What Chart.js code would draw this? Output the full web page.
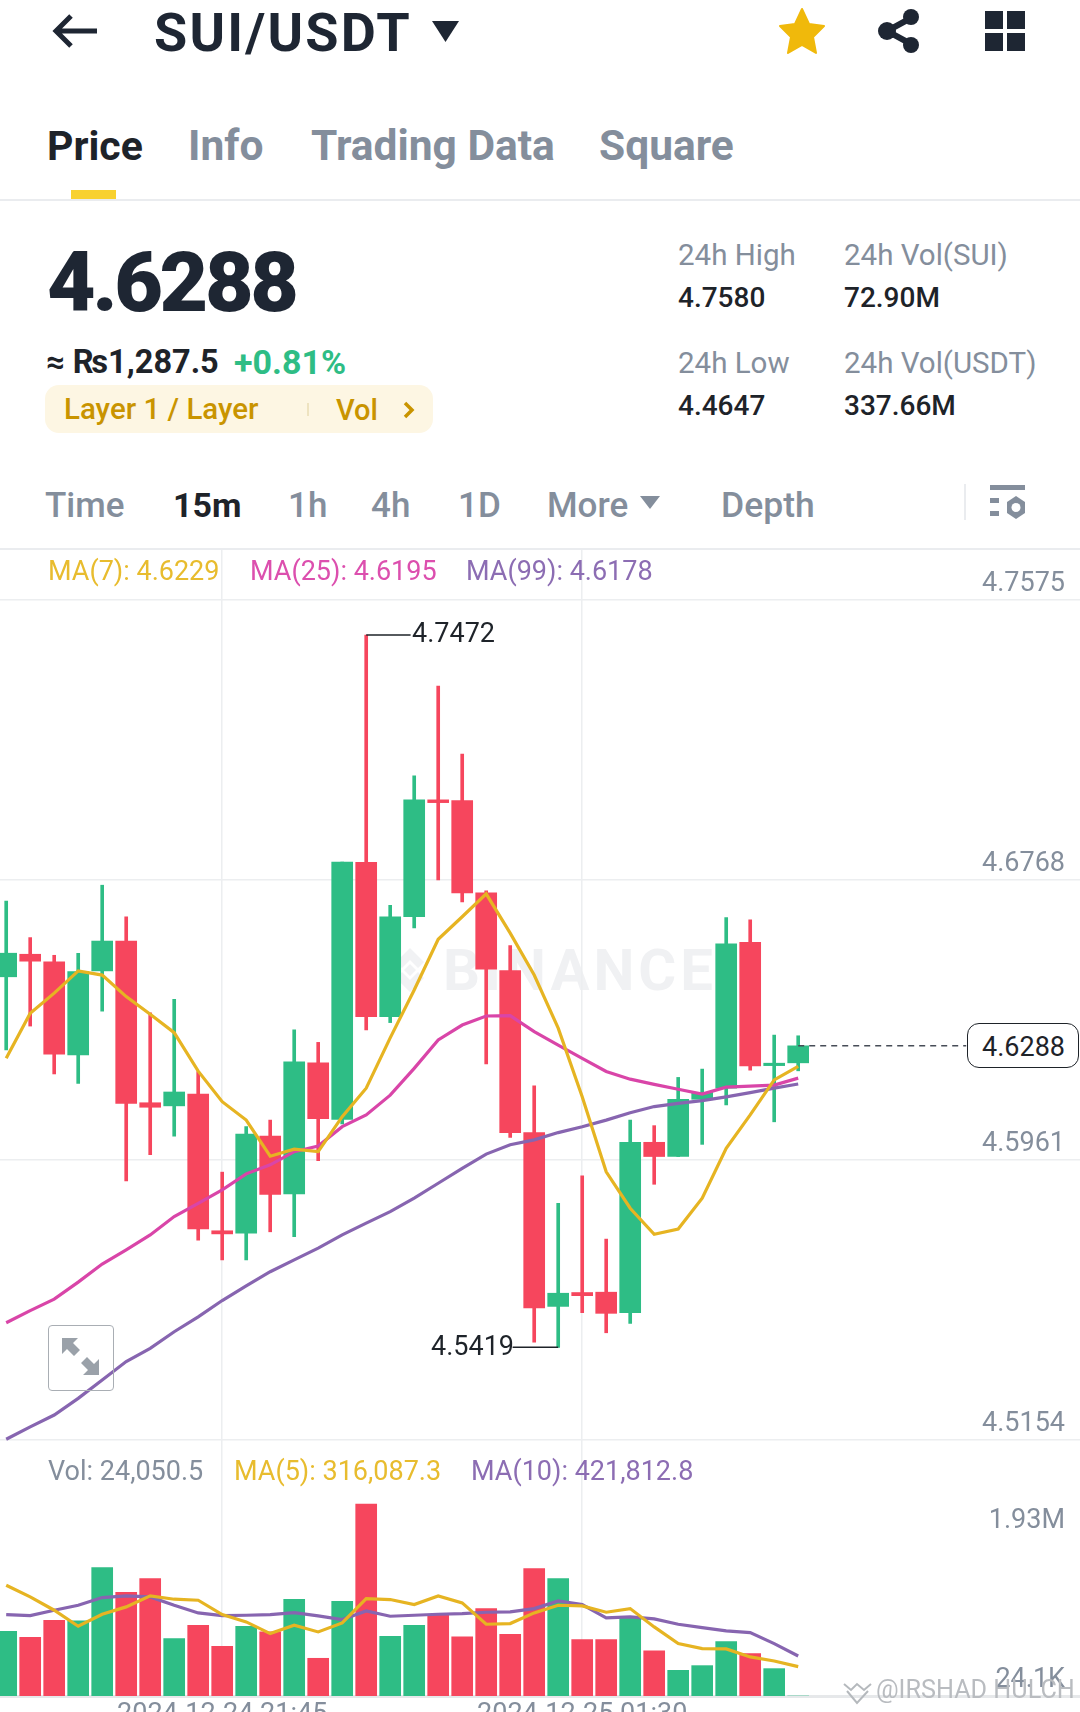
<!DOCTYPE html>
<html lang="en">
<head>
<meta charset="UTF-8">
<title>SUI/USDT</title>
<script src="https://cdn.jsdelivr.net/npm/chart.js@4/dist/chart.umd.min.js"></script>
<style>
  html, body { margin: 0; padding: 0; background: #fff; }
  body { position: relative; width: 1080px; height: 1712px; overflow: hidden; font-family: Roboto, sans-serif; color: #1e2329; }
  canvas { position: absolute; left: 0; z-index: 1; }
  .t { position: absolute; white-space: nowrap; line-height: 1; transform: translateY(-50%); z-index: 2; }
  .tab { font-size: 42.5px; font-weight: 700; color: #848e9c; }
  .stat { font-size: 29.5px; color: #848e9c; }
  .val { font-size: 28px; font-weight: 500; color: #1e2329; }
  .tool { font-size: 35px; font-weight: 500; color: #848e9c; }
  .ma { font-size: 27px; }
  .box { position: absolute; z-index: 2; }
  svg { position: absolute; z-index: 2; overflow: visible; }
</style>
</head>
<body>

<!-- header -->
<svg style="left:53px;top:14px" width="44" height="34"><path d="M18 2 L3 17 L18 32 M3 17 H44" fill="none" stroke="#1e2633" stroke-width="5"/></svg>
<div class="t" style="left:154px;top:33px;font-size:54px;font-weight:700;color:#1e2633;letter-spacing:2.2px">SUI/USDT</div>
<svg style="left:432px;top:21px" width="27" height="21"><path d="M0 0 H27 L13.5 21 Z" fill="#1e2633"/></svg>
<svg style="left:780px;top:9px" width="44" height="44"><path d="M22 0 L29 15 L44 17 L33 28 L36 44 L22 36 L8 44 L11 28 L0 17 L15 15 Z" fill="#f0b90b" stroke="#f0b90b" stroke-linejoin="round" stroke-width="2"/></svg>
<svg style="left:878px;top:9px" width="42" height="44"><path d="M33 9 L9 22 L33 35" fill="none" stroke="#1e2633" stroke-width="6"/><circle cx="33" cy="8" r="8" fill="#1e2633"/><circle cx="9" cy="22" r="9" fill="#1e2633"/><circle cx="33" cy="36" r="8" fill="#1e2633"/></svg>
<svg style="left:985px;top:11px" width="40" height="40"><path d="M0 0 H18 V18 H0 Z M22 0 H40 V18 H22 Z M0 22 H18 V40 H0 Z M22 22 H40 V40 H22 Z" fill="#1e2633"/></svg>

<div class="t tab" style="left:47px;top:146px;color:#1e2329;font-size:41px">Price</div>
<div class="t tab" style="left:188px;top:146px">Info</div>
<div class="t tab" style="left:311px;top:146px">Trading Data</div>
<div class="t tab" style="left:599px;top:146px">Square</div>
<div class="box" style="left:71px;top:190px;width:45px;height:9px;background:#f8d12f"></div>
<div class="box" style="left:0;top:199px;width:1080px;height:2px;background:#eaecef"></div>

<!-- price block -->
<div class="t" style="left:47px;top:283px;font-size:84px;font-weight:900;color:#1e2633;letter-spacing:-3.4px">4.6288</div>
<div class="t" style="left:46px;top:362px;font-size:32.5px;font-weight:700">≈ ₨1,287.5</div>
<div class="t" style="left:234px;top:362px;font-size:34px;font-weight:700;color:#2ebd85">+0.81%</div>
<div class="box" style="left:45px;top:385px;width:388px;height:48px;border-radius:14px;background:#fdf6e3"></div>
<div class="t" style="left:64px;top:410px;font-size:29.5px;font-weight:500;color:#c99400">Layer 1 / Layer</div>
<div class="box" style="left:307px;top:403px;width:2px;height:13px;background:#eee3c0"></div>
<div class="t" style="left:336px;top:410px;font-size:29px;font-weight:500;color:#c99400">Vol</div>
<svg style="left:403px;top:401px" width="12" height="18"><path d="M2 2 L9 9 L2 16" fill="none" stroke="#c99400" stroke-width="3.5"/></svg>

<div class="t stat" style="left:678px;top:256px">24h High</div>
<div class="t val" style="left:678px;top:298px">4.7580</div>
<div class="t stat" style="left:844px;top:256px">24h Vol(SUI)</div>
<div class="t val" style="left:844px;top:298px">72.90M</div>
<div class="t stat" style="left:678px;top:364px">24h Low</div>
<div class="t val" style="left:678px;top:406px">4.4647</div>
<div class="t stat" style="left:844px;top:364px">24h Vol(USDT)</div>
<div class="t val" style="left:844px;top:406px">337.66M</div>

<!-- interval toolbar -->
<div class="t tool" style="left:45px;top:505px">Time</div>
<div class="t tool" style="left:173px;top:505px;color:#1e2329;font-weight:700;font-size:34px">15m</div>
<div class="t tool" style="left:288px;top:505px">1h</div>
<div class="t tool" style="left:371px;top:505px">4h</div>
<div class="t tool" style="left:458px;top:505px">1D</div>
<div class="t tool" style="left:547px;top:505px">More</div>
<svg style="left:640px;top:496px" width="20" height="13"><path d="M0 0 H20 L10 13 Z" fill="#848e9c"/></svg>
<div class="t tool" style="left:721px;top:506px;font-size:35.5px">Depth</div>
<div class="box" style="left:964px;top:484px;width:2px;height:36px;background:#eaecef"></div>
<svg style="left:990px;top:485px" width="36" height="36"><path d="M0 0 H35 V5 H0 Z M0 13 H9 V18 H0 Z M0 26 H9 V31 H0 Z" fill="#848e9c"/><path d="M26 11 L35 17 V28 L26 34 L17 28 V17 Z" fill="#848e9c"/><circle cx="26" cy="22.5" r="4.5" fill="#fff"/></svg>
<div class="box" style="left:0;top:548px;width:1080px;height:2px;background:#eaecef"></div>

<!-- indicator rows -->
<div class="t ma" style="left:48px;top:571px;color:#e8bc2e">MA(7): 4.6229</div>
<div class="t ma" style="left:250px;top:571px;color:#dc4fae">MA(25): 4.6195</div>
<div class="t ma" style="left:466px;top:571px;color:#8c6db3">MA(99): 4.6178</div>
<div class="t ma" style="left:48px;top:1471px;color:#848e9c">Vol: 24,050.5</div>
<div class="t ma" style="left:234px;top:1471px;color:#e8bc2e">MA(5): 316,087.3</div>
<div class="t ma" style="left:471px;top:1471px;color:#8c6db3">MA(10): 421,812.8</div>

<!-- watermark sits under the transparent canvas -->
<svg style="left:396px;top:948px;z-index:0" width="34" height="44"><path d="M14 0 L28 14 L22 20 L14 12 L6 20 L0 14 Z M14 44 L28 30 L22 24 L14 32 L6 24 L0 30 Z M14 16 L20 22 L14 28 L8 22 Z" fill="#f1f2f4"/></svg>
<div class="t" style="left:443px;top:970px;font-size:58px;font-weight:700;color:#f0f1f3;letter-spacing:4px;z-index:0">BINANCE</div>

<canvas id="priceChart" width="1080" height="893" style="top:549px"></canvas>
<canvas id="volChart" width="1080" height="298" style="top:1442px"></canvas>

<!-- chart callouts -->
<div class="t" style="left:412px;top:633px;font-size:27px">4.7472</div>
<div class="t" style="left:431px;top:1346px;font-size:27px">4.5419</div>
<div class="box" style="left:967px;top:1023px;width:110px;height:43px;border:1.5px solid #1e2329;border-radius:12px;background:#fff"></div>
<div class="t" style="left:982px;top:1047px;font-size:27px">4.6288</div>

<!-- expand button -->
<div class="box" style="left:48px;top:1325px;width:64px;height:64px;border:1.5px solid #a9aeb4;border-radius:4px"></div>
<svg style="left:62px;top:1338px" width="38" height="38"><path d="M0 0 H16 L11 5 L18 12 L12 18 L5 11 L0 16 Z M37 37 H21 L26 32 L19 25 L25 19 L32 26 L37 21 Z" fill="#9aa1a9"/></svg>

<!-- photo credit -->
<svg style="left:844px;top:1680px;z-index:3" width="27" height="24"><path d="M0 4 L7 10 L13 4 L20 10 L27 4 M3 11 L13 23 L24 11" fill="none" stroke="#b5b9bd" stroke-width="2"/></svg>
<div class="t" style="left:876px;top:1690px;font-size:25.2px;color:#b9bcc0;z-index:3">@IRSHAD HULCH</div>

<script>
// candles (15m bars, oldest first)
const opens  = [4.6487,4.6552,4.6530,4.6262,4.6504,4.6590,4.6124,4.6115,4.6149,4.5755,4.5748,4.6028,4.5861,4.6239,4.6076,4.6817,4.6372,4.6660,4.6997,4.6995,4.6729,4.6505,4.6038,4.5537,4.5577,4.5578,4.5519,4.6010,4.5969,4.6134,4.6166,4.6586,4.6231,4.6239];
const closes = [4.6555,4.6532,4.6264,4.6502,4.6590,4.6122,4.6111,4.6155,4.5760,4.5746,4.6034,4.5860,4.6242,4.6078,4.6818,4.6372,4.6660,4.6997,4.6989,4.6729,4.6509,4.6038,4.5533,4.5575,4.5568,4.5517,4.6010,4.5969,4.6134,4.6154,4.6582,4.6230,4.6238,4.6288];
const highs  = [4.6705,4.6600,4.6549,4.6555,4.6751,4.6660,4.6383,4.6422,4.6214,4.5924,4.6055,4.6074,4.6334,4.6298,4.6818,4.7472,4.6693,4.7066,4.7325,4.7129,4.6735,4.6577,4.6173,4.5834,4.5913,4.5731,4.6074,4.6058,4.6197,4.6221,4.6658,4.6651,4.6319,4.6317];
const lows   = [4.6276,4.6345,4.6207,4.6180,4.6388,4.5899,4.5974,4.6028,4.5728,4.5671,4.5671,4.5752,4.5738,4.5957,4.6063,4.6334,4.6355,4.6628,4.6766,4.6703,4.6236,4.6024,4.5434,4.5419,4.5519,4.5461,4.5488,4.5889,4.5969,4.6004,4.6118,4.6218,4.6069,4.6216];

const ma7  = [4.6252,4.6382,4.6440,4.6504,4.6492,4.6430,4.6379,4.6326,4.6215,4.6127,4.6074,4.5970,4.5990,4.5983,4.6084,4.6166,4.6311,4.6449,4.6595,4.6660,4.6726,4.6613,4.6492,4.6339,4.6141,4.5925,4.5820,4.5745,4.5760,4.5849,4.5993,4.6089,4.6190,4.6229];
const ma25 = [4.5490,4.5525,4.5558,4.5607,4.5659,4.5700,4.5743,4.5796,4.5834,4.5873,4.5919,4.5945,4.5983,4.5999,4.6055,4.6089,4.6146,4.6223,4.6305,4.6348,4.6374,4.6375,4.6329,4.6290,4.6252,4.6214,4.6192,4.6177,4.6163,4.6149,4.6169,4.6172,4.6175,4.6195];
const ma99 = [4.5154,4.5190,4.5224,4.5272,4.5325,4.5378,4.5416,4.5464,4.5507,4.5554,4.5596,4.5637,4.5671,4.5705,4.5743,4.5777,4.5810,4.5849,4.5892,4.5935,4.5976,4.6003,4.6017,4.6038,4.6055,4.6074,4.6095,4.6113,4.6122,4.6130,4.6141,4.6153,4.6166,4.6178];

const volumes = [667100,607400,776500,769900,1300200,1054900,1190800,594200,726800,517900,716800,660500,985300,398600,965400,1930000,617400,726800,826200,610800,892500,637300,1290300,1190800,584200,584200,809600,471500,279300,325700,564400,445000,295900,24050.5];
const volMa5  = [1124500,1008500,875900,716800,836200,909100,1018500,985300,975400,832800,759900,643900,726800,660500,750000,992000,982000,932300,1018500,948900,736700,743300,849400,925600,919000,856000,892500,710200,544500,494700,491400,411900,372100,316087.3];
const volMa10 = [832800,822900,875900,925600,1001900,1018500,1008500,925600,849400,822900,826200,832800,852700,819600,783100,869300,816300,826200,836200,842800,856000,859400,892500,968700,932300,799700,809600,789700,736700,703600,670400,653800,544500,421812.8];

const priceTicks = [4.7575, 4.6768, 4.5961, 4.5154];
const volTicks = [1930000, 24050];
const volTickLabels = [['', '1.93M'], ['24.1K', '']];
const timeTicks = [9, 24];
const timeLabels = ['2024-12-24 21:45', '2024-12-25 01:30'];

const lastPrice = 4.6288, highMark = 4.7472, lowMark = 4.5419;

const GREEN = '#2ebd85', RED = '#f6465d', YELLOW = '#e6b422', PINK = '#d945a8', PURPLE = '#8765b0';
const GRID = '#eceef0', FONT = 'Roboto';

const candleColors = opens.map((o, i) => closes[i] >= o ? GREEN : RED);
const xy = arr => arr.map((v, i) => ({ x: i, y: v }));
const lineSet = (data, color) => ({ type: 'line', data: xy(data), borderColor: color, borderWidth: 3.2, pointRadius: 0, tension: 0, order: 0 });
const markLine = (x0, x1, y, color, dash) => ({ type: 'line', data: [{ x: x0, y: y }, { x: x1, y: y }], borderColor: color, borderWidth: 1.5, borderDash: dash || [], pointRadius: 0, order: 0 });

// 24px a candle, first one at x=6.2
const xScale = () => ({
  type: 'linear', min: -0.2583, max: 44.7417, offset: false,
  afterBuildTicks: s => { s.ticks = timeTicks.map(v => ({ value: v })); },
  grid: { color: GRID, lineWidth: 1.5, drawTicks: false, offset: false },
  border: { display: false }
});
const noPad = s => { s.paddingTop = 0; s.paddingBottom = 0; s.paddingLeft = 0; s.paddingRight = 0; };
const noPadY = s => { noPad(s); s.width = 0; };

new Chart(document.getElementById('priceChart'), {
  type: 'bar',
  data: {
    datasets: [
      lineSet(ma7, YELLOW),
      lineSet(ma25, PINK),
      lineSet(ma99, PURPLE),
      markLine(15, 16.85, highMark, '#1e2329'),
      markLine(21.1, 23, lowMark, '#1e2329'),
      markLine(33, 40, lastPrice, '#474d57', [6, 5]),
      { data: opens.map((o, i) => ({ x: i, y: [o, closes[i]] })), backgroundColor: candleColors, barThickness: 21, grouped: false, order: 1 },
      { data: lows.map((l, i) => ({ x: i, y: [l, highs[i]] })), backgroundColor: candleColors, barThickness: 3, grouped: false, order: 2 }
    ]
  },
  options: {
    responsive: false,
    animation: false,
    layout: { padding: 0 },
    plugins: { legend: { display: false }, tooltip: { enabled: false } },
    scales: {
      x: Object.assign(xScale(), { ticks: { display: false }, afterFit: noPad }),
      y: {
        position: 'right', min: 4.51462, max: 4.772,
        afterBuildTicks: s => { s.ticks = priceTicks.map(v => ({ value: v })); },
        afterFit: noPadY,
        grid: { color: GRID, lineWidth: 1.5, drawTicks: false },
        border: { display: false },
        ticks: { mirror: true, padding: -15, labelOffset: -15, autoSkip: false, color: '#848e9c', font: { family: FONT, size: 27 }, callback: v => v.toFixed(4) }
      }
    }
  }
});

new Chart(document.getElementById('volChart'), {
  type: 'bar',
  data: {
    datasets: [
      lineSet(volMa5, YELLOW),
      lineSet(volMa10, PURPLE),
      { data: xy(volumes), backgroundColor: candleColors, barThickness: 21, grouped: false, order: 1 }
    ]
  },
  options: {
    responsive: false,
    animation: false,
    layout: { padding: 0 },
    plugins: { legend: { display: false }, tooltip: { enabled: false } },
    scales: {
      x: Object.assign(xScale(), {
        afterFit: s => { noPad(s); s.height = 44; },
        ticks: { autoSkip: false, maxRotation: 0, padding: 3, color: '#848e9c', font: { family: FONT, size: 27 }, callback: (v, i) => timeLabels[i] }
      }),
      y: {
        position: 'right', min: 24050, max: 2546900,
        afterBuildTicks: s => { s.ticks = volTicks.map(v => ({ value: v })); },
        afterFit: noPadY,
        grid: { color: c => c.tick && c.tick.value === 24050 ? '#e6e8ea' : 'transparent', lineWidth: 3, drawTicks: false },
        border: { display: false },
        ticks: { mirror: true, padding: -15, labelOffset: 0.5, autoSkip: false, color: '#848e9c', font: { family: FONT, size: 27, lineHeight: 33 / 27 }, callback: (v, i) => volTickLabels[i] }
      }
    }
  }
});
</script>
</body>
</html>
